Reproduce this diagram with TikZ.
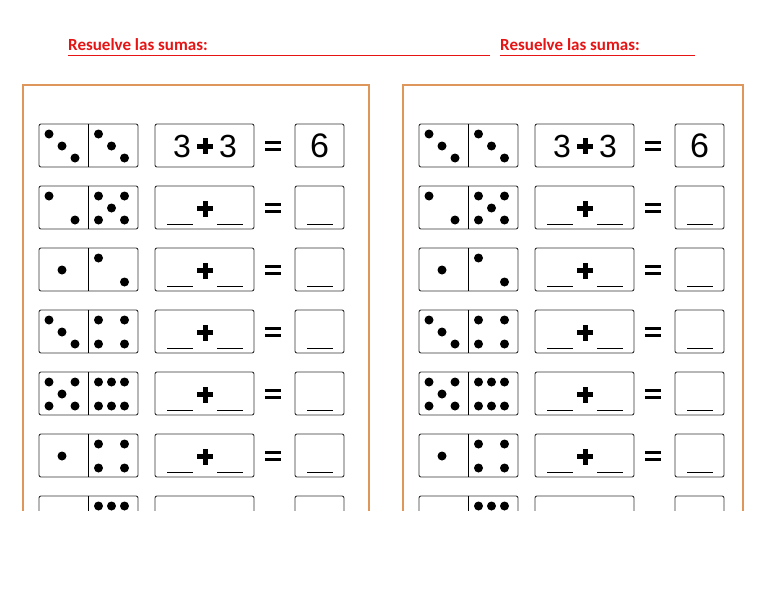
\documentclass[tikz,border=0pt]{standalone}
\usepackage{fontspec}
\setmainfont{Liberation Sans}
\newfontfamily\titlefont{Carlito}
\definecolor{frame}{RGB}{222,150,90}
\definecolor{tred}{RGB}{230,20,20}
\tikzset{box/.style={draw=black!80,line width=0.9pt,rounded corners=2pt},
 blank/.style={line width=1pt},
 ttl/.style={text=tred,font=\titlefont\bfseries\fontsize{17}{20}\selectfont,anchor=base west,inner sep=0pt}}
\newcommand{\pips}[3]{%
 \def\L{#2+10}\def\C{#2+23}\def\R{#2+36}\def\T{#3+10}\def\M{#3+22}\def\B{#3+34}%
 \ifcase#1\relax
 \or \fill (\C,\M) circle (4.5);
 \or \fill (\L,\T) circle (4.5); \fill (\R,\B) circle (4.5);
 \or \fill (\L,\T) circle (4.5); \fill (\C,\M) circle (4.5); \fill (\R,\B) circle (4.5);
 \or \foreach \a in {\L,\R}{\foreach \b in {\T,\B}{\fill (\a,\b) circle (4.5);}}
 \or \foreach \a in {\L,\R}{\foreach \b in {\T,\B}{\fill (\a,\b) circle (4.5);}}\fill (\C,\M) circle (4.5);
 \or \foreach \a in {\L,\C,\R}{\foreach \b in {\T,\B}{\fill (\a,\b) circle (4.5);}}
 \fi}
\newcommand{\bplus}[2]{%
 \fill (#1-8,#2-2.5) rectangle (#1+8,#2+2.5);
 \fill (#1-2.5,#2-8) rectangle (#1+2.5,#2+8);}
\newcommand{\onerow}[4]{%
 \draw[box] (#1+39,#2) rectangle (#1+138,#2+43);
 \draw[line width=0.9pt] (#1+88.5,#2) -- (#1+88.5,#2+43);
 \pips{#3}{#1+39}{#2}\pips{#4}{#1+88.5}{#2}
 \draw[box] (#1+155,#2) rectangle (#1+254,#2+43);
 \fill (#1+265,#2+16.5) rectangle (#1+281,#2+20);
 \fill (#1+265,#2+23.5) rectangle (#1+281,#2+27);
 \draw[box] (#1+295,#2) rectangle (#1+344,#2+43);}
\newcommand{\blanks}[2]{%
 \draw[blank] (#1+167,#2+38) -- (#1+193,#2+38);
 \draw[blank] (#1+217,#2+38) -- (#1+243,#2+38);
 \bplus{#1+205}{#2+22.5}
 \draw[blank] (#1+307,#2+38) -- (#1+333,#2+38);}
\begin{document}
\begin{tikzpicture}[x=1pt,y=-1pt]
\useasboundingbox[fill=white] (0,0) rectangle (768,594);
\node[ttl] (t1) at (68,51) {Resuelve las sumas:};
\node[ttl] (t2) at (500,51) {Resuelve las sumas:};
\draw[tred,line width=0.8pt] (68,55) -- (490,55);
\draw[tred,line width=0.8pt] (500,55) -- (695,55);
\begin{scope}
\clip (0,0) rectangle (768,510);
\draw[frame,line width=2pt] (23,85) rectangle (369,530);
\draw[frame,line width=2pt] (403,85) rectangle (743,530);
\foreach \xo in {0,380}{
 \onerow{\xo}{124}{3}{3}
 \node[font=\fontsize{32}{34}\selectfont] (e\xo) at (\xo+182,146) {3};
 \node[font=\fontsize{32}{34}\selectfont] (f\xo) at (\xo+228,146) {3};
 \bplus{\xo+205}{146}
 \node[font=\fontsize{34}{36}\selectfont] (a\xo) at (\xo+319.5,146) {6};
 \foreach \y/\l/\r in {186/2/5,248/1/2,310/3/4,372/5/6,434/1/4,496/0/6}{
  \onerow{\xo}{\y}{\l}{\r}\blanks{\xo}{\y}}
}
\end{scope}
\end{tikzpicture}
\end{document}
